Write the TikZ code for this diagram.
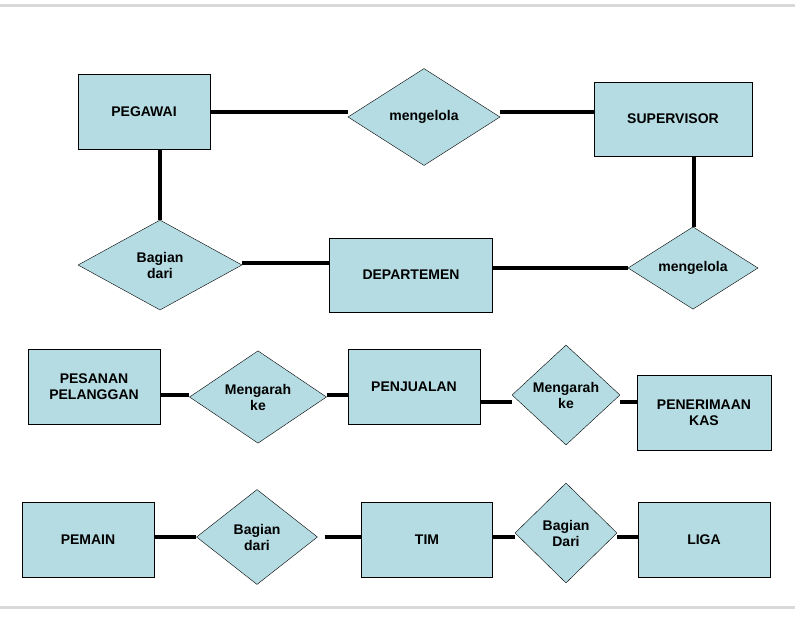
\documentclass[tikz,border=0pt]{standalone}
\usepackage{fontspec}
\setmainfont{Liberation Sans}
\usetikzlibrary{shapes.geometric}
\definecolor{boxfill}{RGB}{180,220,226}
\tikzset{every text node part/.style={align=center}}
\tikzset{entity/.style={draw, fill=boxfill, inner sep=0pt, font=\bfseries\fontsize{14}{16}\selectfont}}
\tikzset{relation/.style={draw, diamond, fill=boxfill, inner sep=0pt, font=\bfseries\fontsize{14}{16}\selectfont}}
\tikzset{link/.style={line width=4pt}}

\begin{document}
\begin{tikzpicture}[x=1pt, y=-1pt]
	\useasboundingbox (0,0) rectangle (795,616);
	% Frame
	\draw[line width=3pt, black!15] (0,5) -- (795,5);
	\draw[line width=3pt, black!15] (0,607) -- (795,607);

	% Row 1
	\node[entity, minimum width=132, minimum height=75] (pegawai) at (144,112) {PEGAWAI};
	\node[relation, minimum width=152, minimum height=97] (kelola1) at (424,117) {mengelola};
	\node[entity, minimum width=158, minimum height=74] (supervisor) at (673,119) {SUPERVISOR};
	\node[relation, minimum width=164, minimum height=90] (bagian1) at (160,265) {Bagian\\dari};
	\node[entity, minimum width=163, minimum height=74] (departemen) at (411,275) {DEPARTEMEN};
	\node[relation, minimum width=130, minimum height=80] (kelola2) at (693,268) {mengelola};

	\draw[link] (pegawai.east |- 0,112) -- (kelola1.west |- 0,112);
	\draw[link] (kelola1.east |- 0,112) -- (supervisor.west |- 0,112);
	\draw[link] (pegawai.south -| 160,0) -- (bagian1.north);
	\draw[link] (supervisor.south -| 694,0) -- (kelola2.north -| 694,0);
	\draw[link] (bagian1.east |- 0,263) -- (departemen.west |- 0,263);
	\draw[link] (departemen.east |- 0,268) -- (kelola2.west);

	% Row 2
	\node[entity, minimum width=132, minimum height=75] (pesanan) at (94,387) {PESANAN\\PELANGGAN};
	\node[relation, minimum width=137, minimum height=90] (arah1) at (258,397) {Mengarah\\ke};
	\node[entity, minimum width=132, minimum height=75] (penjualan) at (414,387) {PENJUALAN};
	\node[relation, minimum width=108, minimum height=100] (arah2) at (566,395) {Mengarah\\ke};
	\node[entity, minimum width=134, minimum height=75] (penerimaan) at (704,413) {PENERIMAAN\\KAS};

	\draw[link] (pesanan.east |- 0,395) -- (arah1.west |- 0,395);
	\draw[link] (arah1.east |- 0,395) -- (penjualan.west |- 0,395);
	\draw[link] (penjualan.east |- 0,402) -- (arah2.west |- 0,402);
	\draw[link] (arah2.east |- 0,402) -- (penerimaan.west |- 0,402);

	% Row 3
	\node[entity, minimum width=132, minimum height=75] (pemain) at (88,540) {PEMAIN};
	\node[relation, minimum width=121, minimum height=95] (bagian2) at (257,537) {Bagian\\dari};
	\node[entity, minimum width=131, minimum height=75] (tim) at (427,540) {TIM};
	\node[relation, minimum width=102, minimum height=100] (bagian3) at (566,533) {Bagian\\Dari};
	\node[entity, minimum width=132, minimum height=75] (liga) at (704,540) {LIGA};

	\draw[link] (pemain.east |- 0,537) -- (bagian2.west |- 0,537);
	\draw[link] (bagian2.east |- 0,537) ++(7,0) -- (tim.west |- 0,537);
	\draw[link] (tim.east |- 0,537) -- (bagian3.west |- 0,537);
	\draw[link] (bagian3.east |- 0,537) -- (liga.west |- 0,537);
\end{tikzpicture}
\end{document}
